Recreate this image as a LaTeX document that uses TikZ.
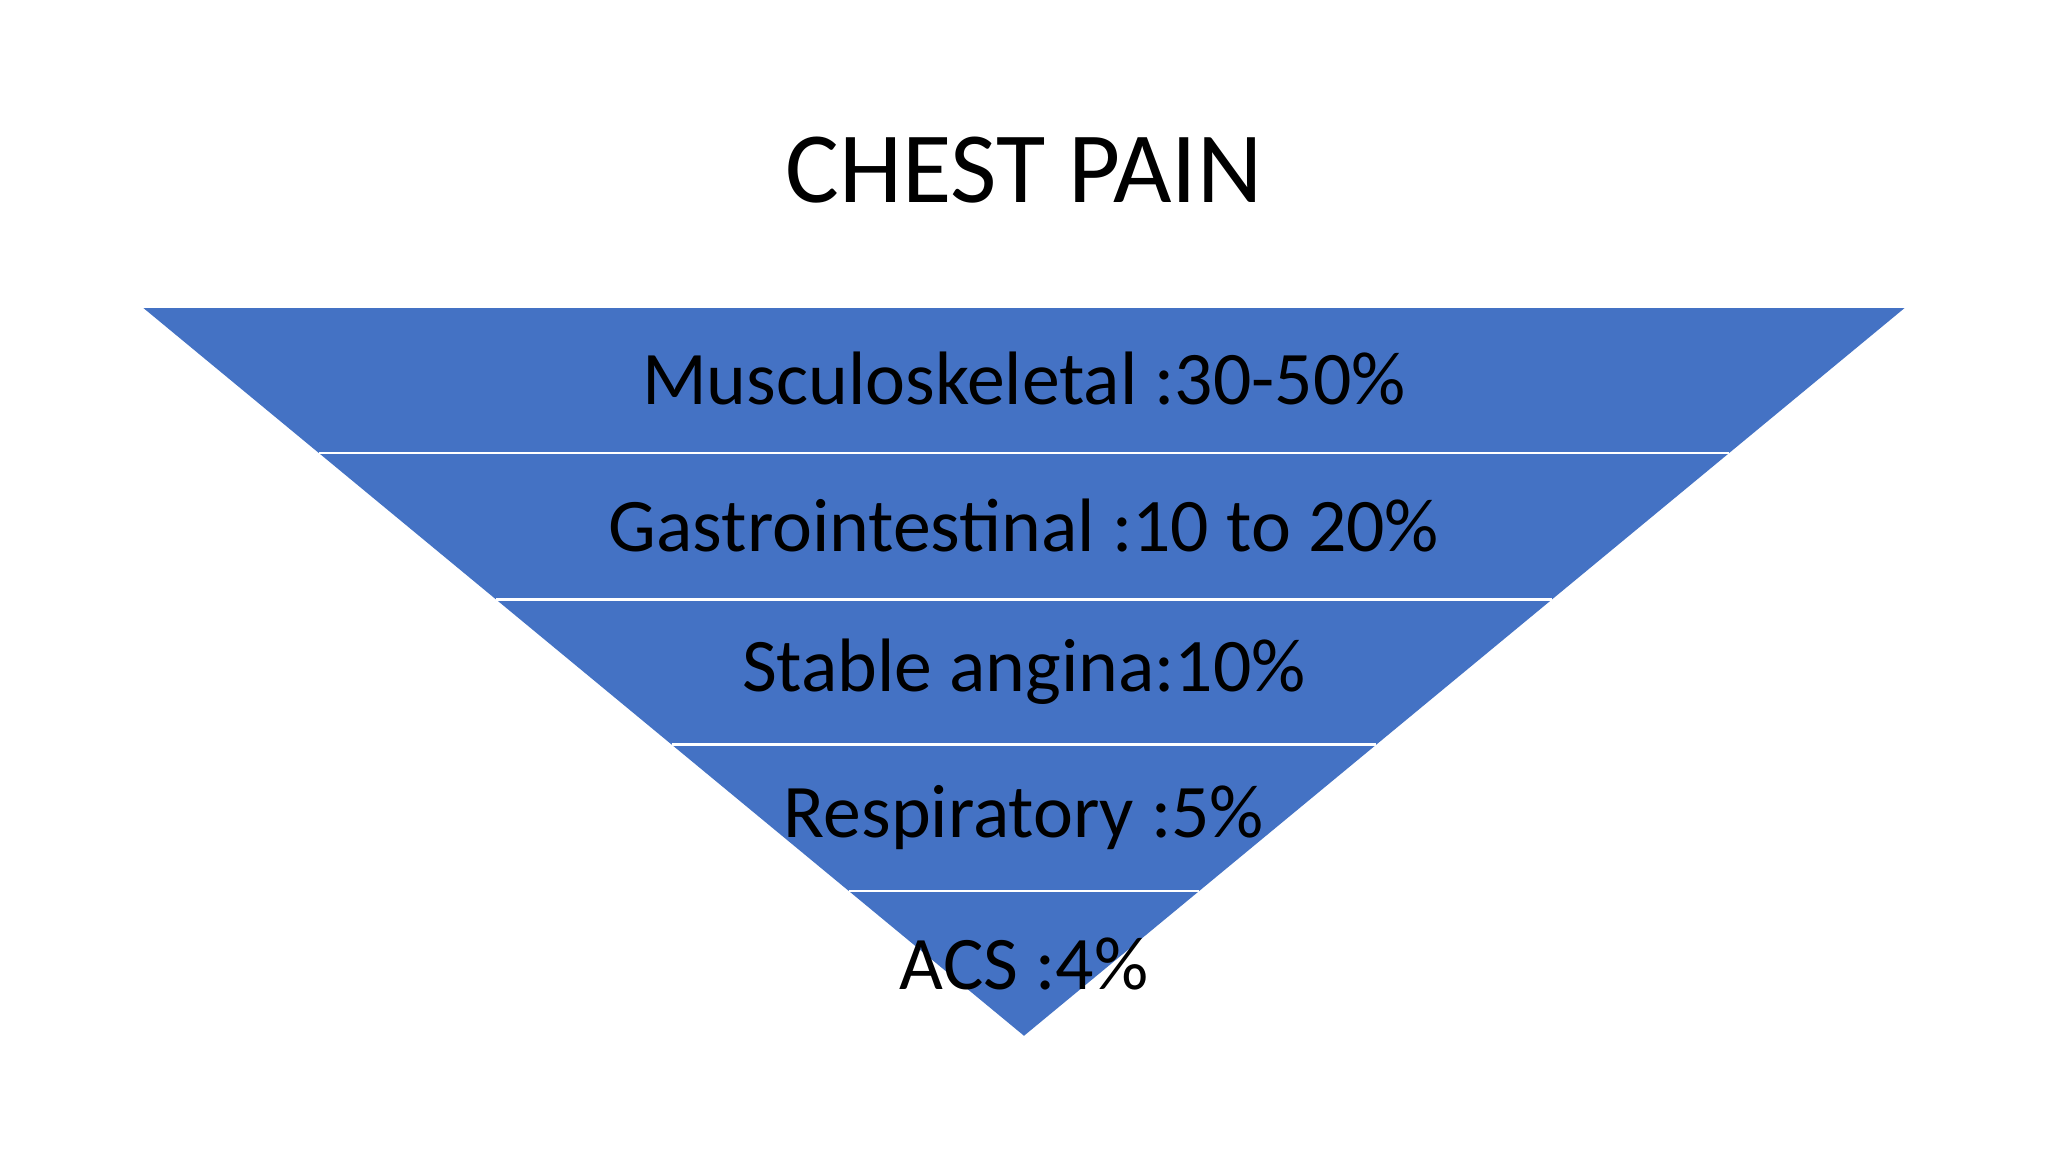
\documentclass[tikz,border=0pt]{standalone}
\usepackage{fontspec}
\setmainfont{Carlito}
\definecolor{bandblue}{HTML}{4472C4}
\begin{document}
\begin{tikzpicture}[x=0.02cm,y=-0.02cm,
  bandtext/.style={font=\fontsize{33}{36}\selectfont, text=black, anchor=center},
  sep/.style={draw=white, line width=1pt}]
\useasboundingbox[fill=white] (0,0) rectangle (1568,882);
\coordinate (TL) at (110,236);
\coordinate (TR) at (1458,236);
\coordinate (AP) at (784,793);
\fill[bandblue] (TL) -- (TR) -- (AP) -- cycle;
\foreach \y [count=\i] in {347,459,570,682}{
  \pgfmathsetmacro{\d}{(\y-236)*1.2101}
  \coordinate (L\i) at ({110+\d},\y);
  \coordinate (R\i) at ({1458-\d},\y);
  \draw[sep] (L\i) -- (R\i);
}
\node[font=\fontsize{44}{48}\selectfont] (title) at (784,130) {CHEST PAIN};
\node[bandtext] (b1) at (784,290) {Musculoskeletal :30-50\%};
\node[bandtext] (b2) at (784,402) {Gastrointestinal :10 to 20\%};
\node[bandtext] (b3) at (784,514) {Stable angina:10\%};
\node[bandtext] (b4) at (784,626) {Respiratory :5\%};
\node[bandtext] (b5) at (784,738) {ACS :4\%};
\end{tikzpicture}
\end{document}
